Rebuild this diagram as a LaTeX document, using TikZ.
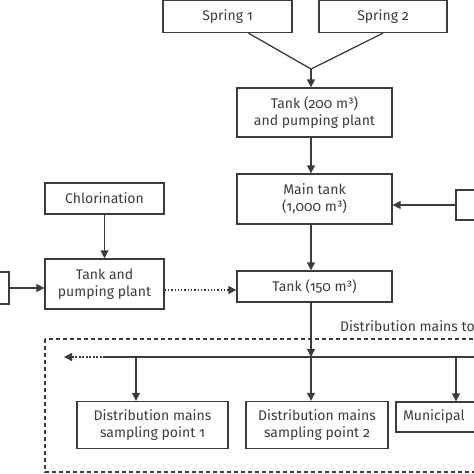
\documentclass[tikz,border=0pt]{standalone}
\usepackage{fontspec}
\setmainfont{Fira Sans}[Numbers=OldStyle]
\usetikzlibrary{arrows.meta,calc}

\definecolor{ink}{HTML}{3C3C3C}

\tikzset{
	box/.style={draw=ink, line width=1.3pt, text=ink, align=center, inner sep=2pt,
		font=\fontsize{14}{17}\selectfont},
	flow/.style={draw=ink, line width=1.3pt, -{Triangle[length=8pt,width=8pt]}}
}

\begin{document}
\begin{tikzpicture}[x=1pt, y=-1pt]
	\useasboundingbox (0,0) rectangle (474,474);
	\clip (0,0) rectangle (474,474);

	% sources
	\node[box, minimum width=129, minimum height=32] (spring1) at (227.5,16.5) {Spring 1};
	\node[box, minimum width=128, minimum height=32] (spring2) at (383,16.5) {Spring 2};
	\coordinate (join) at (311,69);

	% central column
	\node[box, minimum width=155, minimum height=49] (tank200) at (314.5,112.5) {Tank (200 m³)\\and pumping plant};
	\node[box, minimum width=155, minimum height=50] (maintank) at (314.5,199) {Main tank\\(1,000 m³)};
	\node[box, minimum width=155, minimum height=31] (tank150) at (314.5,286.5) {Tank (150 m³)};

	% left column
	\node[box, minimum width=119, minimum height=31] (chlor) at (104.5,198.5) {Chlorination};
	\node[box, minimum width=119, minimum height=50] (tankpump) at (104.5,284) {Tank and\\pumping plant};

	% cut-off boxes at the edges
	\node[box, minimum width=30, minimum height=32] (leftsrc) at (-6,288) {};
	\node[box, minimum width=40, minimum height=30] (rightsrc) at (476,205) {};

	% connectors
	\draw[draw=ink, line width=1.3pt] ([xshift=21pt]spring1.south) -- (join);
	\draw[draw=ink, line width=1.3pt] (spring2.south) -- (join);
	\draw[flow] (join) -- (join |- tank200.north);
	\draw[flow] (tank200.south -| join) -- (maintank.north -| join);
	\draw[flow] (maintank.south -| join) -- (tank150.north -| join);
	\draw[flow] (rightsrc.west) -- (rightsrc.west -| maintank.east);
	\draw[flow] (chlor) -- (tankpump);
	\draw[flow] (leftsrc.east) -- (leftsrc.east -| tankpump.west);
	\draw[flow, dotted] ([yshift=-6pt]tankpump.east) -- ([yshift=-6pt]tankpump.east -| tank150.west);

	% distribution mains
	\draw[draw=ink, line width=1.1pt, dashed, dash pattern=on 4pt off 3pt] (45,339) rectangle (490,472);
	\node[text=ink, anchor=base west, inner sep=0pt, font=\fontsize{14}{17}\selectfont] (mainslabel) at (340,331) {Distribution mains to};
	\coordinate (mainsleft) at (105,357);
	\coordinate (mainsright) at (490,357);
	\coordinate (mainsend) at (64,357);
	\draw[flow] (tank150.south -| join) -- (join |- mainsleft);
	\draw[draw=ink, line width=1.3pt] (mainsleft) -- (mainsright);
	\draw[flow, dashed, dash pattern=on 2pt off 1.5pt] (mainsleft) -- (mainsend);

	\node[box, minimum width=151, minimum height=47] (point1) at (152.5,425) {Distribution mains\\sampling point 1};
	\node[box, minimum width=142, minimum height=47] (point2) at (317,425) {Distribution mains\\sampling point 2};
	\node[box, minimum width=110, minimum height=30, text width=96, align=left] (municipal) at (451,417) {Municipal};

	\foreach \target/\xpos in {point1/136, point2/311, municipal/456}
		\draw[flow] (\xpos,357) -- (\target.north -| \xpos,357);
\end{tikzpicture}
\end{document}
